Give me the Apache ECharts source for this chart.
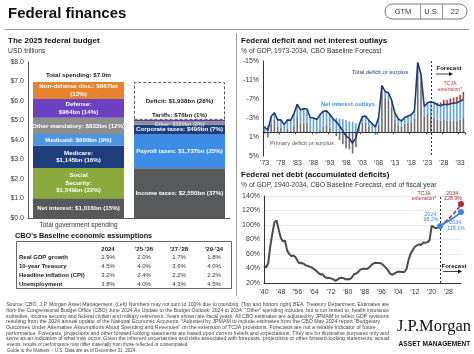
<!DOCTYPE html>
<html><head><meta charset="utf-8">
<script src="https://cdn.jsdelivr.net/npm/echarts@6/dist/echarts.min.js"></script>
<style>html,body{margin:0;padding:0;background:#fff}#c{width:474px;height:354px}</style>
</head><body><div id="c"></div>
<script>
// ---------- DATA ----------
const budgetCats = ['Total government spending', 'Sources of financing'];
const spendNames = ['Net interest', 'Social Security', 'Medicare', 'Medicaid', 'Other mandatory', 'Defense', 'Non-defense disc.'];
const spendValues = [1.016, 1.549, 1.145, 0.600, 0.833, 0.964, 0.867]; // USD tn
const spendPct = [15, 22, 16, 9, 12, 14, 12];
const finNames = ['Income taxes', 'Payroll taxes', 'Corporate taxes', 'Other', 'Tariffs', 'Deficit'];
const finValues = [2.550, 1.737, 0.490, 0.180, 0.076, 1.938];
const finPct = [37, 25, 7, 3, 1, 28];

const tableCols = ['2024', "'25-'26", "'27-'28", "'29-'34"];
const tableRows = ['Real GDP growth', '10-year Treasury', 'Headline inflation (CPI)', 'Unemployment'];
const tableGDP = ['2.9%', '2.0%', '1.7%', '1.8%'];
const tableTsy = ['4.5%', '4.0%', '3.6%', '4.0%'];
const tableCPI = ['3.2%', '2.4%', '2.2%', '2.2%'];
const tableUnemp = ['3.8%', '4.0%', '4.3%', '4.5%'];

// deficit chart 1973-2034, % of GDP (negative = deficit)
const defYears = []; for (let y = 1973; y <= 2034; y++) defYears.push(String(y));
const totalDeficit = [-1.1,-0.4,-3.3,-4.1,-2.6,-2.6,-1.6,-2.6,-2.5,-3.9,-5.9,-4.7,-5.0,-4.9,-3.1,-3.0,-2.7,-3.7,-4.4,-4.5,
  -3.8,-2.8,-2.2,-1.3,-0.3,0.8,1.3,2.3,1.2,-1.5,-3.3,-3.4,-2.5,-1.8,-1.1,-3.1,-9.8,-8.6,-8.3,-6.7,
  -4.0,-2.8,-2.4,-3.1,-3.4,-3.7,-4.6,-14.7,-12.1,-5.4,-6.2,-6.4,-6.2,-5.8,-5.6,-5.9,-5.8,-6.0,-6.1,-6.2,-6.5,-6.9];
const netInterest = [-1.4,-1.5,-1.5,-1.5,-1.5,-1.6,-1.7,-1.9,-2.2,-2.6,-2.5,-2.8,-3.0,-2.9,-2.8,-2.9,-3.0,-3.1,-3.2,-3.0,
  -2.8,-2.7,-3.0,-2.9,-2.8,-2.6,-2.3,-2.2,-1.9,-1.5,-1.3,-1.3,-1.4,-1.6,-1.6,-1.6,-1.3,-1.3,-1.5,-1.3,
  -1.3,-1.3,-1.2,-1.3,-1.4,-1.6,-1.7,-1.6,-1.5,-1.9,-2.4,-3.0,-3.1,-3.2,-3.2,-3.3,-3.4,-3.5,-3.6,-3.7,-3.8,-3.9];
const primaryDeficit = [0.3,1.1,-1.8,-2.6,-1.1,-1.0,0.1,-0.7,-0.3,-1.3,-3.4,-1.9,-2.0,-2.0,-0.3,-0.1,0.3,-0.6,-1.2,-1.5,
  -1.0,-0.1,0.8,1.6,2.5,3.4,3.6,4.5,3.1,0.0,-2.0,-2.1,-1.1,-0.2,0.5,-1.5,-8.5,-7.3,-6.8,-5.4,
  -2.7,-1.5,-1.2,-1.8,-2.0,-2.1,-2.9,-13.1,-10.6,-3.5,-3.8,-3.4,-3.1,-2.6,-2.4,-2.6,-2.4,-2.5,-2.5,-2.5,-2.7,-3.0];
const tcjaExtension2026to2034 = [-0.4,-0.7,-0.9,-1.0,-1.1,-1.2,-1.3,-1.4,-1.6];

// debt chart 1940-2034, % of GDP
const debtYears = []; for (let y = 1940; y <= 2034; y++) debtYears.push(String(y));
const debtHistory = [43.6,41.5,47.0,70.9,88.3,103.9,106.1,93.9,82.4,77.4,78.5,65.3,60.1,57.1,57.9,55.7,50.6,47.2,47.7,46.4,
  44.3,43.5,42.3,41.0,38.7,36.7,33.7,31.8,32.2,28.3,27.0,27.1,26.4,25.1,23.1,24.5,26.7,27.1,26.6,24.9,
  25.5,25.2,27.9,32.1,33.1,35.3,38.4,39.5,39.8,39.3,40.8,44.0,46.6,47.8,47.7,47.5,46.8,44.5,41.6,38.2,
  33.6,31.4,32.5,34.5,35.5,35.6,35.3,35.2,39.2,52.2,60.6,65.5,70.0,71.9,73.4,72.5,75.8,75.6,76.4,78.8,
  98.7,97.2,95.5,96.7,98.2];
const debtBaseline2024to2034 = [98.2,100.3,102.2,103.8,105.4,107.3,109.1,111.0,113.2,115.5,118.1];
const debtTCJA2024to2034 = [98.2,100.6,103.3,105.8,108.5,111.3,114.2,117.3,120.7,124.6,128.9];

// ---------- STYLE ----------
const F = 'Liberation Sans, Arial, Helvetica, sans-serif';
const spendColors = ['#58595b', '#8aab3c', '#1d3e7b', '#4d95e2', '#8e8e8e', '#6b41c2', '#e7832f'];
const finColors = ['#58595b', '#3d8ce6', '#1d3f80', '#8e8e8e', '#5a3ca6', '#ffffff'];
const spendPre = ['Net interest: ', 'Social\nSecurity:\n', 'Medicare:\n', 'Medicaid: ', 'Other mandatory: ', 'Defense:\n', 'Non-defense disc.: '];
const spendMid = [' ', ' ', ' ', ' ', ' ', ' ', '\n'];
const fmtBn = v => '$' + Math.round(v * 1000).toLocaleString('en-US') + 'bn';

const series = [];
spendValues.forEach((v, i) => {
  series.push({
    type: 'bar', name: spendNames[i], xAxisIndex: 0, yAxisIndex: 0, stack: 'budget', barWidth: 91,
    data: [v, '-'], itemStyle: { color: spendColors[i] },
    label: { show: true, position: 'inside', color: '#fff', fontSize: 6.2, fontWeight: 'bold', lineHeight: 7.5, fontFamily: F,
      formatter: spendPre[i] + fmtBn(v) + spendMid[i] + '(' + spendPct[i] + '%)' }
  });
});
const totalSpend = spendValues.reduce((a, b) => a + b, 0);
series.push({
  type: 'bar', xAxisIndex: 0, yAxisIndex: 0, stack: 'budget', barWidth: 91, data: [0, '-'],
  itemStyle: { color: 'transparent' },
  label: { show: true, position: 'top', distance: 4, color: '#222', fontSize: 6.2, fontWeight: 'bold', fontFamily: F,
    formatter: 'Total spending: $' + totalSpend.toFixed(1) + 'tn' }
});
finValues.forEach((v, i) => {
  const isDef = finNames[i] === 'Deficit', isTar = finNames[i] === 'Tariffs', isOther = finNames[i] === 'Other';
  series.push({
    type: 'bar', name: finNames[i], xAxisIndex: 0, yAxisIndex: 0, stack: 'budget', barWidth: 91,
    data: ['-', v],
    itemStyle: isDef ? { color: '#fff', borderColor: '#555', borderWidth: 1, borderType: [3, 2] } : { color: finColors[i] },
    label: { show: true, position: isTar ? 'top' : 'inside', distance: 2, offset: isOther ? [0, 1] : [0, 0],
      color: (isDef || isTar) ? '#222' : (isOther ? '#dcdcdc' : '#fff'), fontSize: isOther ? 5.5 : 6.2, fontWeight: 'bold', fontFamily: F,
      formatter: finNames[i] + ': ' + fmtBn(v) + ' (' + finPct[i] + '%)' }
  });
});

// deficit chart
series.push({
  type: 'bar', name: 'Primary deficit or surplus', xAxisIndex: 1, yAxisIndex: 1, stack: 'def', barWidth: 1.6,
  data: primaryDeficit, itemStyle: { color: '#6f6f6f' },
  markLine: { silent: true, symbol: 'none', label: { show: false }, lineStyle: { color: '#333', type: 'solid', width: 1 },
    data: [{ yAxis: 0 }] }
});
series.push({
  type: 'bar', name: 'Net interest outlays', xAxisIndex: 1, yAxisIndex: 1, stack: 'def', barWidth: 1.6,
  data: netInterest, itemStyle: { color: '#5ea3ea' },
  markLine: { silent: true, symbol: 'none', label: { show: false }, lineStyle: { color: '#333', type: [2, 2], width: 1 },
    data: [{ xAxis: '2024' }] }
});
series.push({
  type: 'bar', name: 'TCJA extension', xAxisIndex: 1, yAxisIndex: 1, stack: 'def', barWidth: 1.6,
  data: Array(53).fill('-').concat(tcjaExtension2026to2034), itemStyle: { color: '#c0392b' }
});
series.push({
  type: 'line', name: 'Total deficit or surplus', xAxisIndex: 1, yAxisIndex: 1, data: totalDeficit,
  symbol: 'none', lineStyle: { color: '#1f3a73', width: 1.6 }, z: 5
});

// debt chart
series.push({
  type: 'line', xAxisIndex: 3, yAxisIndex: 2, data: debtHistory.concat(Array(10).fill('-')),
  symbol: 'none', lineStyle: { color: '#4a4a4a', width: 2 },
  markLine: { silent: true, symbol: 'none', label: { show: false }, lineStyle: { color: '#333', type: [2, 2], width: 1 },
    data: [{ xAxis: '2024' }] }
});
series.push({
  type: 'line', xAxisIndex: 3, yAxisIndex: 2, data: Array(84).fill('-').concat(debtTCJA2024to2034),
  showAllSymbol: true, symbol: 'circle', symbolSize: (v, p) => p.dataIndex === 94 ? 6 : 0,
  itemStyle: { color: '#b3262d' }, lineStyle: { color: '#b3262d', width: 1.6, type: [4, 2] }, z: 4
});
series.push({
  type: 'line', xAxisIndex: 3, yAxisIndex: 2, data: Array(84).fill('-').concat(debtBaseline2024to2034),
  showAllSymbol: true, symbol: 'circle', symbolSize: (v, p) => (p.dataIndex === 84 || p.dataIndex === 94) ? 6 : 0,
  itemStyle: { color: '#3f86dc' }, lineStyle: { color: '#3f86dc', width: 2 }, z: 5
});

// ---------- GRAPHIC TEXT ----------
const G = [];
function T(x, y, text, o) {
  o = o || {};
  G.push({ type: 'text', x: x, y: y, z: 100, silent: true, scaleX: o.sx || 1, originX: x,
    style: { text: text, fill: o.c || '#222', fontSize: o.s || 7, fontWeight: o.b ? 'bold' : 'normal',
      fontFamily: o.f || F, align: o.a || 'left', textAlign: o.a || 'left', verticalAlign: 'middle', textVerticalAlign: 'middle' } });
}
function L(x1, y1, x2, y2, c, w, dash) {
  G.push({ type: 'line', z: 100, silent: true, shape: { x1, y1, x2, y2 }, style: { stroke: c || '#999', lineWidth: w || 1, lineDash: dash || null } });
}
T(8, 14, 'Federal finances', { s: 15, b: true, c: '#111' });
// pill
G.push({ type: 'rect', z: 100, shape: { x: 385, y: 4, width: 82, height: 15, r: 7.5 }, style: { fill: '#fff', stroke: '#777', lineWidth: 1 } });
L(420.5, 4, 420.5, 19, '#999'); L(442.5, 4, 442.5, 19, '#999');
T(403, 11.5, 'GTM', { s: 7.5, a: 'center', c: '#333' });
T(431.5, 11.5, 'U.S.', { s: 7.5, a: 'center', c: '#333' });
T(455, 11.5, '22', { s: 7.5, a: 'center', c: '#333' });
L(5, 29.5, 469, 29.5, '#9a9a9a', 1);
L(236.5, 33, 236.5, 296, '#9a9a9a', 1);

T(8, 41, 'The 2025 federal budget', { s: 8, b: true, c: '#111' });
T(8, 51, 'USD trillions', { s: 6.8, c: '#333' });
T(241, 41, 'Federal deficit and net interest outlays', { s: 8, b: true, c: '#111' });
T(241, 51, '% of GDP, 1973-2034, CBO Baseline Forecast', { s: 6.8, c: '#333' });
T(241, 175, 'Federal net debt (accumulated deficits)', { s: 8, b: true, c: '#111' });
T(241, 185, '% of GDP, 1940-2034, CBO Baseline Forecast, end of fiscal year', { s: 6.8, c: '#333' });

// deficit annotations
T(380, 72, 'Total deficit or surplus', { s: 5.8, c: '#1f3a73', a: 'center' });
T(348, 104, 'Net interest outlays', { s: 5.8, c: '#3d8fe0', a: 'center', b: true });
T(302, 143, 'Primary deficit or surplus', { s: 5.8, c: '#555', a: 'center' });
T(449, 68.5, 'Forecast', { s: 6, b: true, c: '#111', a: 'center' });
L(436, 74, 449, 74, '#111', 0.8);
G.push({ type: 'polygon', z: 100, shape: { points: [[449, 72], [453, 74], [449, 76]] }, style: { fill: '#111' } });
T(450, 84, 'TCJA', { s: 5.3, c: '#c0392b', a: 'center' });
T(450, 89.5, 'extension*', { s: 5.3, c: '#c0392b', a: 'center' });

// debt annotations
T(424, 193.5, 'TCJA', { s: 5.3, c: '#b3262d', a: 'center' });
T(424, 199, 'extension*', { s: 5.3, c: '#b3262d', a: 'center' });
T(453, 193.5, '2034:', { s: 5.3, c: '#b3262d', a: 'center' });
T(453, 199, '128.9%', { s: 5.3, c: '#b3262d', a: 'center' });
T(431, 214.5, '2024:', { s: 5.3, c: '#3f86dc', a: 'center' });
T(431, 220, '98.2%', { s: 5.3, c: '#3f86dc', a: 'center' });
T(456, 223, '2034:', { s: 5.3, c: '#3f86dc', a: 'center' });
T(456, 228.5, '118.1%', { s: 5.3, c: '#3f86dc', a: 'center' });
T(454, 266, 'Forecast', { s: 6, b: true, c: '#111', a: 'center' });
L(443, 271.5, 458, 271.5, '#111', 0.8);
G.push({ type: 'polygon', z: 100, shape: { points: [[458, 269.5], [462, 271.5], [458, 273.5]] }, style: { fill: '#111' } });

// table
T(15, 236, "CBO's Baseline economic assumptions", { s: 7.3, b: true, c: '#111' });
G.push({ type: 'rect', z: 100, shape: { x: 16.5, y: 241.5, width: 215, height: 47 }, style: { fill: 'none', stroke: '#666', lineWidth: 1 } });
const colX = [108, 144, 179, 214];
const rowY = [257.5, 266.5, 275.5, 284];
const tableVals = [tableGDP, tableTsy, tableCPI, tableUnemp];
tableCols.forEach((c, j) => T(colX[j], 249, c, { s: 6, b: true, a: 'center', c: '#222' }));
tableRows.forEach((r, i) => {
  T(19, rowY[i], r, { s: 6, b: true, c: '#222' });
  tableVals[i].forEach((v, j) => T(colX[j], rowY[i], v, { s: 6, a: 'center', c: '#333' }));
});

// footnote
const foot = [
  'Source: CBO, J.P. Morgan Asset Management; (Left) Numbers may not sum to 100% due to rounding. (Top and bottom right) BEA, Treasury Department. Estimates are',
  'from the Congressional Budget Office (CBO) June 2024 An Update to the Budget Outlook: 2024 to 2034. "Other" spending includes, but is not limited to, health insurance',
  'subsidies, income security and federal civilian and military retirement. Years shown are fiscal years. All CBO estimates are adjusted by JPMAM to reflect GDP revisions',
  'resulting from the 2024 annual update of the National Economic Accounts. *Adjusted by JPMAM to include estimates from the CBO May 2024 report "Budgetary',
  'Outcomes Under Alternative Assumptions About Spending and Revenues" on the extension of TCJA provisions. Forecasts are not a reliable indicator of future',
  'performance. Forecasts, projections and other forward-looking statements are based upon current beliefs and expectations. They are for illustrative purposes only and',
  'serve as an indication of what may occur. Given the inherent uncertainties and risks associated with forecasts, projections or other forward-looking statements, actual',
  'events, results or performance may differ materially from those reflected or contemplated.',
  'Guide to the Markets \u2013 U.S. Data are as of December 31, 2024.'
];
const mctx = document.createElement('canvas').getContext('2d');
mctx.font = '4.6px ' + F;
foot.forEach((t, i) => {
  const w = mctx.measureText(t).width;
  const sx = i < 7 ? Math.min(1.15, 383 / w) : 1;
  T(7, 305 + i * 5.7, t, { s: 4.6, c: '#444', sx: sx });
});
T(434, 327, 'J.P.Morgan', { s: 16.5, c: '#111', a: 'center', f: 'Liberation Serif, Times New Roman, serif' });
T(434.5, 344, 'ASSET MANAGEMENT', { s: 6.6, b: true, c: '#111', a: 'center' });

const option = {
  animation: false,
  backgroundColor: '#fff',
  textStyle: { fontFamily: F },
  grid: [
    { left: 28, top: 62, width: 202, height: 156 },
    { left: 263, top: 61, width: 202, height: 95 },
    { left: 264, top: 196, width: 197, height: 87 }
  ],
  xAxis: [
    { gridIndex: 0, type: 'category', data: budgetCats, axisLine: { lineStyle: { color: '#555' } }, axisTick: { show: false },
      axisLabel: { fontSize: 6.5, color: '#333', margin: 4 } },
    { gridIndex: 1, type: 'category', data: defYears, axisLine: { show: false, onZero: false }, axisTick: { show: false },
      axisLabel: { interval: 4, formatter: y => "'" + y.slice(2), fontSize: 7, color: '#333', margin: 4 } },
    { gridIndex: 1, type: 'category', data: defYears, position: 'top',
      axisLine: { show: true, onZero: true, lineStyle: { color: '#333' } },
      axisTick: { show: true, inside: true, interval: 4, length: 2, lineStyle: { color: '#333' } }, axisLabel: { show: false } },
    { gridIndex: 2, type: 'category', data: debtYears, boundaryGap: false, axisLine: { lineStyle: { color: '#333' } },
      axisTick: { show: false }, axisLabel: { interval: 7, formatter: y => "'" + y.slice(2), fontSize: 7, color: '#333', margin: 6 } }
  ],
  yAxis: [
    { gridIndex: 0, type: 'value', min: 0, max: 8, interval: 1, axisLine: { show: true, lineStyle: { color: '#555' } },
      axisTick: { show: false }, splitLine: { show: false },
      axisLabel: { formatter: v => '$' + v.toFixed(1), fontSize: 7, color: '#333', margin: 4 } },
    { gridIndex: 1, type: 'value', min: -15, max: 5, interval: 4, inverse: true,
      axisLine: { show: true, onZero: false, lineStyle: { color: '#333' } }, axisTick: { show: false }, splitLine: { show: false },
      axisLabel: { formatter: v => v + '%', fontSize: 7, color: '#333', margin: 4 } },
    { gridIndex: 2, type: 'value', min: 20, max: 140, interval: 20,
      axisLine: { show: true, onZero: false, lineStyle: { color: '#333' } }, axisTick: { show: false },
      splitLine: { show: true, lineStyle: { color: '#e4e4e4', width: 0.8 } },
      axisLabel: { formatter: v => v + '%', fontSize: 7, color: '#333', margin: 4 } }
  ],
  series: series,
  graphic: { elements: G }
};
const chart = echarts.init(document.getElementById('c'));
chart.setOption(option);
</script>
</body></html>
